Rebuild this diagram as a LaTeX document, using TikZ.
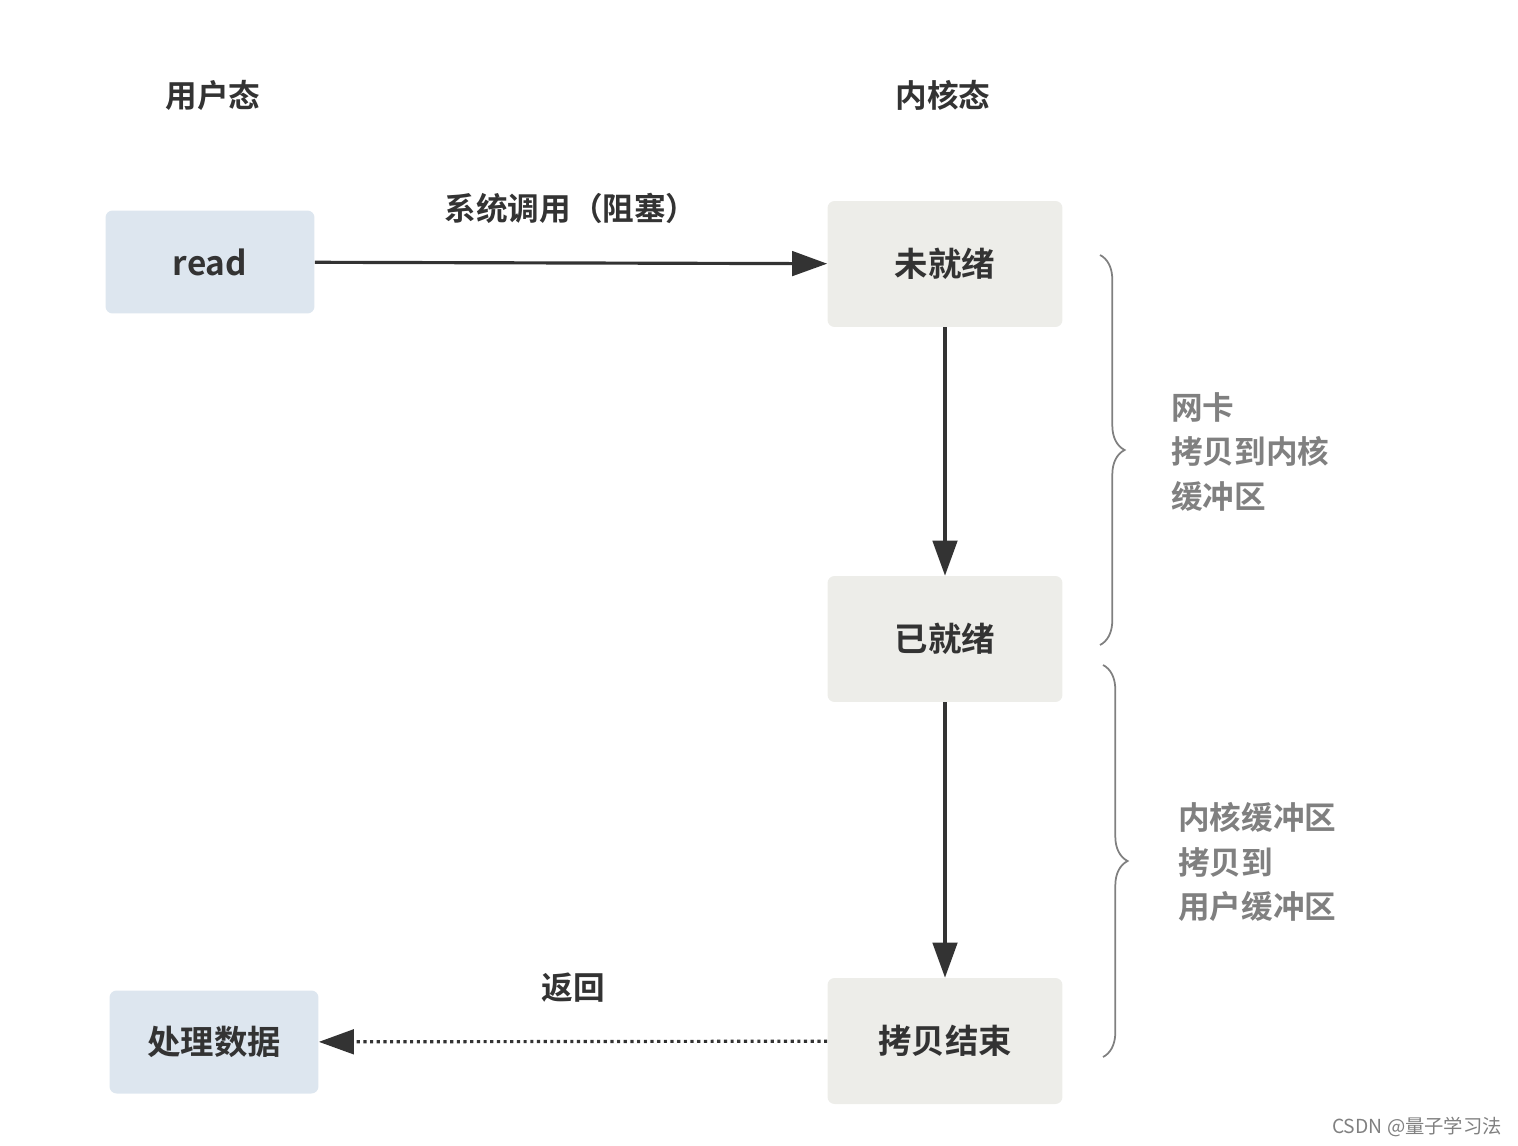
\documentclass[tikz,border=0pt]{standalone}
\usepackage{fontspec}
\setmainfont{Noto Sans CJK SC}[BoldFont={Noto Sans CJK SC Bold}]
\usetikzlibrary{arrows.meta,decorations.pathreplacing}
\definecolor{ublue}{HTML}{DDE6EF}
\definecolor{kgray}{HTML}{EDEDE9}
\definecolor{tdark}{HTML}{333333}
\definecolor{tgray}{HTML}{808080}
\begin{document}
\begin{tikzpicture}[x=0.02cm,y=-0.02cm,
  box/.style={rounded corners=4pt,inner sep=0pt,font=\fontsize{19}{22}\selectfont\bfseries,text=tdark},
  ubox/.style={box,fill=ublue,minimum width=4.18cm,minimum height=2.06cm},
  kbox/.style={box,fill=kgray,minimum width=4.7cm,minimum height=2.52cm},
  lab/.style={font=\fontsize{18}{22}\selectfont\bfseries,text=tdark},
  side/.style={font=\fontsize{18}{25.5}\selectfont\bfseries,text=tgray,align=left,anchor=west},
  arr/.style={line width=1.8pt,draw=tdark,-{Triangle[length=20pt,width=14pt]}},
  br/.style={draw=tgray,line width=1pt,decorate,decoration={brace,amplitude=14pt}}]
\useasboundingbox (0,0) rectangle (1518,1146);
\node[lab] (t1) at (213,95) {用户态};
\node[lab] (t2) at (943,95) {内核态};
\node[ubox] (read) at (210,262) {read};
\node[kbox] (n1) at (945,264) {未就绪};
\node[kbox] (n2) at (945,639) {已就绪};
\node[kbox] (n3) at (945,1041) {拷贝结束};
\node[ubox] (proc) at (214,1042) {处理数据};
\draw[arr] (read) -- (n1) node[midway,above=18pt,lab] (l1) {系统调用（阻塞）};
\draw[arr] (n1) -- (n2);
\draw[arr] (n2) -- (n3);
\draw[arr,dotted] (n3) -- (proc) node[midway,above=18pt,lab] (l2) {返回};
\draw[br] (1100,255) -- (1100,645);
\draw[br] (1103,665) -- (1103,1057);
\node[side] (s1) at (1165,452) {网卡\\拷贝到内核\\缓冲区};
\node[side] (s2) at (1172,862) {内核缓冲区\\拷贝到\\用户缓冲区};
\node[font=\fontsize{11}{13}\selectfont,text=tgray] (wm) at (1417,1127) {CSDN @量子学习法};
\end{tikzpicture}
\end{document}
